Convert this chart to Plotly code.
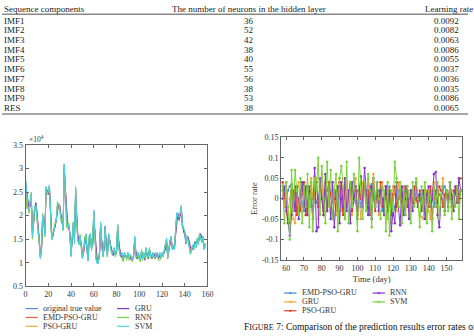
import plotly.graph_objects as go

W, H = 474, 336
SERIF = "Liberation Serif"

# ---------------- table data ----------------
tbl_header = ["Sequence components", "The number of neurons in the hidden layer", "Learning rate"]
tbl_components = ["IMF1", "IMF2", "IMF3", "IMF4", "IMF5", "IMF6", "IMF7", "IMF8", "IMF9", "RES"]
tbl_neurons = [36, 52, 42, 38, 40, 55, 56, 38, 53, 38]
tbl_lr = ["0.0092", "0.0082", "0.0063", "0.0086", "0.0055", "0.0037", "0.0036", "0.0035", "0.0086", "0.0065"]

# ---------------- left chart data (x10^4) ----------------
true_value = [2.75,2.45,2.2,2.1,2.3,2.45,1.55,1.9,2.2,2.25,
              2.0,1.75,1.5,1.1,1.3,2.0,1.9,1.6,2.6,2.5,
              2.5,2.65,2.0,1.5,1.6,1.7,1.8,1.9,2.2,2.25,
              2.2,1.95,1.9,1.7,3.1,2.5,2.0,1.75,1.8,1.6,
              1.15,1.5,1.85,1.45,2.6,1.9,1.5,1.4,1.55,1.35,
              1.1,1.25,1.5,1.6,1.25,1.05,1.55,1.6,1.3,1.4,
              2.1,1.5,1.1,1.0,1.0,1.2,1.85,1.4,1.15,1.3,
              1.75,1.3,1.15,1.6,1.45,1.3,1.2,1.2,1.3,1.15,
              1.25,1.8,1.35,1.2,1.15,1.2,1.05,1.2,1.15,1.1,
              1.2,1.1,1.15,1.1,1.05,1.15,1.55,1.15,1.1,1.2,
              1.1,1.05,1.25,1.1,1.2,1.1,1.3,1.15,1.1,1.3,
              1.15,1.1,1.2,1.15,1.1,1.2,1.15,1.1,1.2,1.1,
              1.2,1.15,1.25,1.35,1.5,1.1,1.3,1.45,1.55,1.3,
              1.35,1.3,1.7,2.05,2.0,1.95,2.05,2.2,1.75,1.7,
              1.65,1.45,1.55,1.5,1.35,1.2,1.3,1.35,1.3,1.4,
              1.35,1.5,1.4,1.6,1.55,1.45,1.55,1.3,1.4]
emd_pso_gru = [2.72,2.45,2.22,2.12,2.28,2.42,1.6,1.88,2.18,2.23,
               2.02,1.77,1.52,1.13,1.3,1.97,1.9,1.62,2.57,2.5,
               2.48,2.62,2.02,1.52,1.6,1.7,1.8,1.9,2.18,2.23,
               2.18,1.97,1.9,1.72,3.05,2.5,2.02,1.77,1.78,1.6,
               1.18,1.5,1.82,1.47,2.55,1.9,1.52,1.42,1.53,1.37,
               1.12,1.25,1.48,1.58,1.27,1.08,1.52,1.58,1.32,1.4,
               2.05,1.52,1.12,1.02,1.02,1.2,1.82,1.42,1.17,1.3,
               1.72,1.32,1.17,1.58,1.45,1.3,1.22,1.2,1.28,1.17,
               1.25,1.77,1.37,1.22,1.15,1.2,1.07,1.2,1.15,1.12,
               1.18,1.12,1.15,1.1,1.07,1.15,1.52,1.17,1.1,1.18,
               1.12,1.07,1.23,1.12,1.18,1.12,1.28,1.15,1.12,1.28,
               1.15,1.12,1.18,1.15,1.12,1.18,1.15,1.12,1.18,1.12,
               1.18,1.15,1.23,1.35,1.48,1.13,1.28,1.43,1.53,1.32,
               1.35,1.32,1.68,2.02,2.0,1.95,2.03,2.17,1.77,1.7,
               1.65,1.47,1.53,1.5,1.37,1.22,1.3,1.35,1.32,1.38,
               1.37,1.48,1.42,1.58,1.55,1.47,1.53,1.32,1.38]
pso_gru = [2.7,2.5,2.25,2.1,2.25,2.4,1.65,1.85,2.15,2.25,
           2.05,1.8,1.55,1.15,1.28,1.95,1.92,1.65,2.55,2.52,
           2.45,2.6,2.05,1.55,1.58,1.72,1.78,1.92,2.15,2.2,
           2.2,2.0,1.88,1.75,3.0,2.55,2.05,1.8,1.75,1.62,
           1.2,1.48,1.8,1.5,2.5,1.95,1.55,1.42,1.5,1.38,
           1.15,1.22,1.45,1.58,1.3,1.1,1.5,1.55,1.35,1.38,
           2.0,1.55,1.15,1.05,1.02,1.18,1.8,1.45,1.18,1.28,
           1.7,1.35,1.18,1.55,1.48,1.32,1.22,1.18,1.28,1.18,
           1.22,1.75,1.38,1.22,1.13,1.18,1.08,1.18,1.13,1.1,
           1.17,1.13,1.13,1.08,1.08,1.13,1.5,1.18,1.08,1.17,
           1.13,1.08,1.22,1.13,1.17,1.13,1.27,1.17,1.1,1.27,
           1.17,1.1,1.17,1.17,1.1,1.17,1.17,1.1,1.17,1.13,
           1.17,1.17,1.22,1.33,1.45,1.15,1.27,1.42,1.5,1.33,
           1.33,1.33,1.65,2.0,2.02,1.93,2.02,2.15,1.8,1.68,
           1.63,1.5,1.52,1.52,1.38,1.25,1.28,1.33,1.33,1.37,
           1.38,1.45,1.43,1.55,1.57,1.48,1.5,1.35,1.35]
gru = [2.68,2.5,2.28,2.15,2.2,2.35,1.7,1.8,2.1,2.28,
       2.1,1.85,1.58,1.2,1.25,1.9,1.95,1.7,2.5,2.55,
       2.45,2.55,2.1,1.6,1.55,1.7,1.75,1.9,2.1,2.25,
       2.22,1.95,1.85,1.75,2.95,2.6,2.1,1.82,1.72,1.65,
       1.25,1.45,1.8,1.55,2.45,2.0,1.6,1.45,1.5,1.4,
       1.18,1.2,1.42,1.55,1.35,1.15,1.45,1.55,1.4,1.35,
       1.95,1.6,1.2,1.08,1.05,1.15,1.75,1.5,1.2,1.25,
       1.78,1.4,1.2,1.5,1.5,1.35,1.25,1.15,1.3,1.2,
       1.2,1.7,1.42,1.25,1.12,1.15,1.1,1.15,1.12,1.12,
       1.15,1.15,1.12,1.05,1.1,1.12,1.45,1.2,1.08,1.15,
       1.15,1.05,1.2,1.15,1.15,1.05,1.25,1.2,1.08,1.25,
       1.2,1.08,1.15,1.2,1.08,1.15,1.2,1.08,1.15,1.15,
       1.15,1.2,1.2,1.3,1.42,1.18,1.25,1.4,1.48,1.35,
       1.3,1.35,1.6,1.95,2.05,1.9,2.0,2.1,1.85,1.65,
       1.6,1.4,1.5,1.55,1.45,1.3,1.25,1.3,1.38,1.45,
       1.4,1.42,1.48,1.5,1.62,1.5,1.45,1.4,1.32]
rnn = [2.65,2.15,2.2,2.05,2.35,2.5,1.5,1.95,2.15,2.2,
       1.95,1.7,1.45,1.12,1.35,2.05,1.85,1.55,2.6,2.45,
       2.5,2.6,1.95,1.5,1.65,1.75,1.85,1.95,2.3,2.2,
       2.15,1.9,1.95,1.7,3.05,2.45,1.75,1.8,1.85,1.55,
       1.2,1.55,1.85,1.4,2.55,1.85,1.45,1.38,1.6,1.3,
       1.08,1.3,1.55,1.6,1.2,1.05,1.6,1.62,1.25,1.45,
       2.05,1.45,1.05,0.98,1.0,1.25,1.82,1.35,1.12,1.35,
       1.7,1.25,1.12,1.62,1.4,1.28,1.18,1.22,1.32,1.12,
       1.28,1.78,1.3,1.15,1.12,1.05,1.02,1.22,1.1,1.05,
       1.22,1.05,1.18,1.08,1.02,1.18,1.5,1.1,1.12,1.22,
       1.05,1.02,1.28,1.05,1.22,1.08,1.32,1.1,1.12,1.3,
       1.1,1.08,1.22,1.1,1.08,1.22,1.1,1.05,1.05,1.08,
       1.22,1.12,1.28,1.38,1.52,1.08,1.35,1.5,1.5,1.28,
       1.38,1.28,1.72,2.05,1.98,1.97,2.05,2.15,1.72,1.75,
       1.68,1.42,1.58,1.48,1.32,1.18,1.32,1.38,1.28,1.42,
       1.32,1.52,1.38,1.62,1.52,1.42,1.55,1.28,1.42]
svm = [2.8,2.4,2.18,2.12,2.32,2.45,1.55,1.92,2.22,2.22,
       1.98,1.73,1.48,1.08,1.32,2.02,1.88,1.58,2.62,2.48,
       2.52,2.65,1.98,1.48,1.62,1.68,1.82,1.88,2.22,2.25,
       2.2,1.93,1.92,1.68,3.1,2.48,1.98,1.73,1.82,1.58,
       1.12,1.52,1.87,1.43,2.62,1.88,1.48,1.38,1.57,1.33,
       1.08,1.27,1.52,1.62,1.23,1.03,1.57,1.62,1.28,1.42,
       2.12,1.48,1.08,0.98,0.98,1.22,1.87,1.38,1.13,1.32,
       1.77,1.28,1.13,1.62,1.43,1.28,1.18,1.22,1.32,1.13,
       1.27,1.82,1.33,1.18,1.17,1.22,1.07,1.22,1.17,1.12,
       1.22,1.12,1.17,1.12,1.07,1.17,1.57,1.13,1.12,1.22,
       1.12,1.07,1.27,1.08,1.22,1.12,1.32,1.13,1.12,1.32,
       1.13,1.12,1.22,1.13,1.12,1.22,1.13,1.12,1.22,1.12,
       1.22,1.13,1.27,1.37,1.52,1.12,1.32,1.47,1.57,1.28,
       1.37,1.28,1.72,2.07,1.98,1.97,2.07,2.22,1.73,1.72,
       1.67,1.43,1.57,1.48,1.33,1.18,1.32,1.37,1.28,1.42,
       1.33,1.52,1.38,1.62,1.53,1.43,1.57,1.28,1.42]
left_names = ["original true value", "EMD-PSO-GRU", "PSO-GRU", "GRU", "RNN", "SVM"]
left_series = [true_value, emd_pso_gru, pso_gru, gru, rnn, svm]
left_colors = ["#4f8fdc", "#e8663f", "#f4aa3a", "#7b3dc6", "#72d046", "#4ad3e6"]

# ---------------- right chart data (error rate) ----------------
err_start_day = 58
err_emd_pso_gru = [0.02,0.01,-0.01,0.02,0.03,0.035,0.01,-0.03,-0.02,0.0,0.02,-0.01,-0.03,0.01,0.03,0.0,-0.02,0.01,0.02,-0.01,
                   0.0,0.03,0.01,-0.02,0.0,0.02,0.04,0.01,-0.01,0.02,0.0,-0.03,0.01,0.03,0.02,0.0,-0.02,0.01,0.035,0.02,
                   0.0,-0.01,0.02,0.01,-0.02,0.0,0.03,0.01,-0.01,0.02,0.035,0.0,-0.02,0.01,0.02,-0.01,-0.03,0.0,0.02,0.01,
                   0.03,0.0,-0.04,-0.02,0.01,0.02,0.0,-0.01,0.015,0.02,0.0,-0.02,0.01,0.02,-0.01,0.0,0.01,-0.005,0.01,0.02,
                   0.0,-0.01,0.01,0.02,0.0,-0.02,0.01,0.02,0.01,0.0,0.02,0.03,0.01,-0.01,0.02,0.0,0.01,0.02,0.03,0.01,0.02]
err_gru = [0.03,-0.02,0.04,-0.04,0.0,0.03,-0.05,-0.06,0.02,0.04,-0.03,0.01,0.03,-0.04,0.02,-0.02,0.05,0.0,0.055,0.05,
           -0.05,0.02,0.06,-0.03,0.04,-0.02,0.03,-0.05,0.04,0.0,-0.04,0.03,0.05,-0.03,0.02,-0.05,0.04,-0.01,0.03,-0.04,
           0.02,0.05,-0.03,0.0,-0.05,0.04,0.02,-0.03,0.05,-0.02,0.03,0.06,-0.01,0.02,-0.04,0.01,0.04,-0.02,0.03,-0.05,
           0.02,-0.06,0.03,0.01,-0.03,0.04,0.0,-0.02,0.03,-0.04,0.02,0.01,-0.03,0.02,-0.01,0.03,0.0,-0.04,-0.045,-0.05,
           0.01,0.02,-0.03,-0.05,0.02,0.04,-0.02,0.03,-0.04,0.01,0.05,-0.03,0.02,-0.02,0.04,0.0,-0.03,0.03,-0.01,0.04,0.05]
err_pso_gru = [0.04,0.01,-0.03,-0.06,-0.06,0.02,-0.02,0.03,-0.04,0.0,-0.03,0.02,0.04,-0.04,-0.01,0.03,0.0,-0.05,0.02,0.04,
               -0.02,0.03,0.0,-0.04,0.02,-0.03,0.04,0.01,-0.05,0.0,0.02,-0.03,0.04,0.0,-0.04,0.03,-0.02,0.01,0.04,-0.03,
               0.0,0.02,-0.04,0.03,0.0,-0.02,0.04,-0.01,0.02,-0.04,0.03,0.01,-0.03,0.02,-0.01,0.04,-0.02,0.0,0.03,-0.03,
               0.02,-0.04,0.01,0.03,-0.02,0.0,0.02,-0.03,0.01,0.03,-0.02,0.0,0.02,-0.01,0.03,0.0,-0.02,0.02,0.0,-0.03,
               0.02,0.01,-0.02,0.03,-0.05,0.0,0.02,-0.01,0.03,0.02,-0.02,0.01,0.02,0.0,0.03,-0.02,0.02,0.01,0.03,-0.01,0.02]
err_rnn = [0.0,0.03,-0.02,-0.05,-0.09,-0.04,0.02,-0.03,0.03,-0.05,0.01,0.04,-0.02,0.03,-0.04,0.02,0.0,-0.03,0.075,-0.08,
           -0.07,0.05,0.0,-0.04,0.06,-0.03,0.02,-0.05,0.04,-0.07,0.0,0.03,-0.06,0.04,-0.02,0.05,-0.03,0.02,-0.06,0.04,
           0.0,0.03,-0.05,0.02,0.055,-0.02,0.075,0.02,-0.04,0.03,-0.05,0.05,-0.02,0.04,-0.03,0.02,0.0,-0.04,0.03,-0.02,
           0.01,-0.08,-0.03,-0.06,0.04,-0.02,-0.065,0.03,-0.04,0.0,0.03,-0.05,0.02,-0.03,0.0,0.04,-0.02,0.01,-0.03,0.02,
           -0.05,0.01,0.03,-0.02,0.0,0.06,0.065,-0.04,-0.07,0.0,0.03,-0.03,0.02,-0.02,0.04,0.0,-0.03,0.03,-0.01,0.05,0.02]
err_svm = [0.03,-0.06,0.04,-0.02,-0.1,0.07,-0.03,0.07,0.02,-0.04,0.05,-0.06,0.03,-0.02,0.06,-0.07,0.04,-0.08,0.05,0.02,
           0.1,-0.04,0.08,0.0,-0.06,0.09,-0.02,0.07,-0.05,0.02,0.06,-0.08,0.05,0.08,0.03,-0.05,0.09,-0.06,0.04,-0.02,
           0.06,0.0,-0.08,0.1,0.03,-0.05,0.04,-0.03,0.06,0.02,-0.07,0.05,-0.02,0.04,0.0,-0.05,0.03,0.02,-0.08,0.04,
           -0.09,0.02,-0.03,0.09,0.05,-0.02,0.04,-0.06,0.02,-0.04,0.03,0.01,-0.06,0.04,-0.02,0.05,0.0,-0.07,0.03,-0.03,
           0.04,-0.06,0.02,0.0,-0.08,0.03,-0.02,0.04,-0.05,0.01,0.03,-0.04,0.02,-0.03,0.04,-0.05,0.01,-0.02,0.03,-0.05,0.02]
right_names = ["EMD-PSO-GRU", "GRU", "PSO-GRU", "RNN", "SVM"]
right_series = [err_emd_pso_gru, err_gru, err_pso_gru, err_rnn, err_svm]
right_colors = ["#3b8ee0", "#f7a234", "#e0392b", "#8630d8", "#79d13b"]

left_yticks = [0.5, 1, 1.5, 2, 2.5, 3, 3.5]
left_xticks = [0, 20, 40, 60, 80, 100, 120, 140, 160]
right_yticks = [-0.15, -0.1, -0.05, 0, 0.05, 0.1, 0.15]
right_yticklabels = ["-0.15", "-0.1", "-0.05", "0", "0.05", "0.1", "0.15"]
right_xticks = [60, 70, 80, 90, 100, 110, 120, 130, 140, 150]


def px(x):
    return x / W


def py(y):
    return 1 - y / H


fig = go.Figure()

for name, ys, col in zip(left_names, left_series, left_colors):
    fig.add_trace(go.Scatter(x=list(range(len(ys))), y=ys, mode="lines", name=name,
                             line=dict(color=col, width=1), xaxis="x", yaxis="y", showlegend=False))

for name, ys, col in zip(right_names, right_series, right_colors):
    fig.add_trace(go.Scatter(x=list(range(err_start_day, err_start_day + len(ys))), y=ys,
                             mode="lines+markers", name=name,
                             line=dict(color=col, width=1), marker=dict(color=col, size=2.5),
                             xaxis="x2", yaxis="y2", showlegend=False))

axis_common = dict(showline=True, linecolor="#666", linewidth=1, mirror="ticks", ticks="inside",
                   ticklen=3, tickcolor="#666", showgrid=False, zeroline=False,
                   tickfont=dict(family=SERIF, size=8, color="#333"))

fig.update_layout(
    width=W, height=H, margin=dict(l=0, r=0, t=0, b=0),
    paper_bgcolor="white", plot_bgcolor="white", showlegend=False,
    xaxis=dict(domain=[px(24), px(209)], range=[0, 160], tickvals=left_xticks, anchor="y", **axis_common),
    yaxis=dict(domain=[py(290), py(145)], range=[0.5, 3.5], tickvals=left_yticks, anchor="x", **axis_common),
    xaxis2=dict(domain=[px(284), px(468)], range=[57.2, 158.8], tickvals=right_xticks, anchor="y2",
                title=dict(text="Time (day)", font=dict(family=SERIF, size=8.5, color="#333"), standoff=4),
                **axis_common),
    yaxis2=dict(domain=[py(263), py(137)], range=[-0.15, 0.15], tickvals=right_yticks,
                ticktext=right_yticklabels, anchor="x2",
                title=dict(text="Error rate", font=dict(family=SERIF, size=8.5, color="#333"), standoff=2),
                **axis_common),
)

ann = []
shapes = []
tfont = dict(family=SERIF, size=9, color="#222")

# table header
ann.append(dict(x=px(0), y=py(5), xref="paper", yref="paper", text=tbl_header[0], showarrow=False,
                xanchor="left", yanchor="middle", font=tfont))
ann.append(dict(x=px(251), y=py(5), xref="paper", yref="paper", text=tbl_header[1], showarrow=False,
                xanchor="center", yanchor="middle", font=tfont))
ann.append(dict(x=px(428), y=py(5), xref="paper", yref="paper", text=tbl_header[2], showarrow=False,
                xanchor="left", yanchor="middle", font=tfont))
for i, (c, n, lr) in enumerate(zip(tbl_components, tbl_neurons, tbl_lr)):
    yy = py(17 + i * 10)
    ann.append(dict(x=px(0), y=yy, xref="paper", yref="paper", text=c, showarrow=False,
                    xanchor="left", yanchor="middle", font=tfont))
    ann.append(dict(x=px(251), y=yy, xref="paper", yref="paper", text=str(n), showarrow=False,
                    xanchor="center", yanchor="middle", font=tfont))
    ann.append(dict(x=px(452), y=yy, xref="paper", yref="paper", text=lr, showarrow=False,
                    xanchor="center", yanchor="middle", font=tfont))
shapes.append(dict(type="line", xref="paper", yref="paper", x0=0, x1=1, y0=py(10.5), y1=py(10.5),
                   line=dict(color="#888", width=1.6)))
shapes.append(dict(type="line", xref="paper", yref="paper", x0=0, x1=1, y0=py(113), y1=py(113),
                   line=dict(color="#888", width=1.6)))

# x10^4 label
ann.append(dict(x=px(25), y=py(139), xref="paper", yref="paper", text="×10<sup>4</sup>", showarrow=False,
                xanchor="left", yanchor="middle", font=dict(family=SERIF, size=7.5, color="#333")))

# legends: keys as short lines, labels as one multi-line text per column
# (line spacing from the outer 7px font = 9.1px, glyphs drawn at 8px)
SPAN = "<span style='font-size:8px'>%s</span>"
ROW = 9.1


def legend_block(names, colors, lx, ly0, marker):
    for k, (nm, col) in enumerate(zip(names, colors)):
        yk = ly0 + k * ROW
        shapes.append(dict(type="line", xref="paper", yref="paper", x0=px(lx), x1=px(lx + 12.5),
                           y0=py(yk), y1=py(yk), line=dict(color=col, width=1.2)))
        if marker:
            shapes.append(dict(type="circle", xref="paper", yref="paper", x0=px(lx + 5.1), x1=px(lx + 7.4),
                               y0=py(yk + 1.15), y1=py(yk - 1.15), fillcolor=col, line=dict(width=0)))
    mid = ly0 + (len(names) - 1) * ROW / 2
    ann.append(dict(x=px(lx + 17), y=py(mid), xref="paper", yref="paper",
                    text="<br>".join(SPAN % nm for nm in names), showarrow=False, align="left",
                    xanchor="left", yanchor="middle", borderpad=0,
                    font=dict(family=SERIF, size=7, color="#333")))


legend_block(left_names[:3], left_colors[:3], 24, 313, False)
legend_block(left_names[3:], left_colors[3:], 117, 313, False)
legend_block(right_names[:3], right_colors[:3], 287, 297, True)
legend_block(right_names[3:], right_colors[3:], 377, 297, True)

# caption
ann.append(dict(x=px(245), y=py(331.5), xref="paper", yref="paper",
                text="F<span style='font-size:8px'>IGURE</span> 7: Comparison of the prediction results error rates of each",
                showarrow=False, xanchor="left", yanchor="middle", borderpad=0,
                font=dict(family=SERIF, size=9.5, color="#111")))

fig.update_layout(annotations=ann, shapes=shapes)
fig.write_html("out.html")
